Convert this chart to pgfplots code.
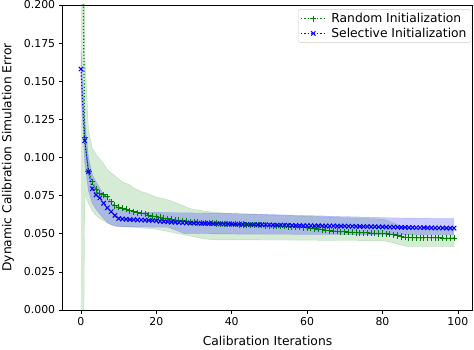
\documentclass[border=0pt]{standalone}
\usepackage{pgfplots}
\pgfplotsset{compat=1.18}
\usepackage{pgfplotstable}
\usepgfplotslibrary{fillbetween}
\usepackage{fontspec}
\setmainfont{DejaVu Sans}
\definecolor{mplgreen}{RGB}{0,128,0}
\definecolor{mplblue}{RGB}{0,0,255}
\pgfplotstableread{
x g glo ghi b blo bhi
0 0.350 -0.300 1.000 0.158 0.146 0.170
1 0.113 0.075 0.170 0.111 0.097 0.125
2 0.091 0.070 0.118 0.0907 0.078 0.100
3 0.084 0.065 0.106 0.0795 0.070 0.089
4 0.079 0.062 0.102 0.0755 0.066 0.084
5 0.0765 0.060 0.099 0.0735 0.063 0.080
6 0.0755 0.0585 0.096 0.0700 0.060 0.076
7 0.0743 0.057 0.092 0.0670 0.0575 0.073
8 0.0710 0.056 0.090 0.0645 0.056 0.070
9 0.0685 0.0555 0.088 0.0620 0.055 0.068
10 0.0675 0.055 0.086 0.0600 0.0546 0.066
11 0.0668 0.0548 0.084 0.0597 0.0545 0.0655
12 0.0660 0.0546 0.083 0.0595 0.0545 0.0650
13 0.0650 0.0544 0.082 0.0593 0.0545 0.0647
14 0.0643 0.0542 0.080 0.0592 0.0545 0.0645
15 0.0638 0.0540 0.079 0.0591 0.0544 0.0643
16 0.0634 0.0538 0.0776 0.0590 0.0544 0.0642
17 0.0630 0.0536 0.0770 0.0589 0.0544 0.0641
18 0.0622 0.0534 0.0760 0.0588 0.0544 0.0641
19 0.0615 0.0532 0.0750 0.0587 0.0543 0.0640
20 0.0610 0.0530 0.0740 0.0586 0.0543 0.0640
21 0.0606 0.0525 0.0735 0.0582 0.0543 0.0640
22 0.0602 0.0520 0.0730 0.0580 0.0543 0.0639
23 0.0598 0.0515 0.0722 0.0578 0.0543 0.0639
24 0.0594 0.0510 0.0715 0.0576 0.0535 0.0638
25 0.0590 0.0505 0.0705 0.0575 0.0525 0.0638
26 0.0587 0.0500 0.0695 0.0574 0.0515 0.0638
27 0.0584 0.0495 0.0685 0.0572 0.0505 0.0637
28 0.0581 0.0490 0.0675 0.0571 0.0500 0.0637
29 0.0578 0.0485 0.0665 0.0570 0.0500 0.0637
30 0.0576 0.0480 0.0660 0.0570 0.0500 0.0636
31 0.0574 0.0475 0.0656 0.0569 0.0500 0.0636
32 0.0572 0.0470 0.0652 0.0568 0.0500 0.0636
33 0.0570 0.0466 0.0648 0.0568 0.0500 0.0635
34 0.0569 0.0463 0.0645 0.0567 0.0500 0.0635
35 0.0568 0.0460 0.0642 0.0566 0.0499 0.0635
36 0.0567 0.0460 0.0640 0.0566 0.0499 0.0634
37 0.0566 0.0460 0.0638 0.0565 0.0499 0.0634
38 0.0565 0.0460 0.0636 0.0564 0.0499 0.0634
39 0.0564 0.0460 0.0635 0.0564 0.0499 0.0634
40 0.0563 0.0460 0.0633 0.0563 0.0499 0.0633
41 0.0562 0.0460 0.0632 0.0562 0.0498 0.0632
42 0.0561 0.0460 0.0631 0.0562 0.0498 0.0631
43 0.0560 0.0460 0.0630 0.0561 0.0498 0.0631
44 0.0559 0.0460 0.0629 0.0561 0.0498 0.0630
45 0.0558 0.0460 0.0628 0.0560 0.0498 0.0629
46 0.0557 0.0460 0.0627 0.0560 0.0498 0.0629
47 0.0556 0.0460 0.0626 0.0559 0.0498 0.0628
48 0.0555 0.0459 0.0625 0.0559 0.0498 0.0627
49 0.0554 0.0459 0.0624 0.0558 0.0498 0.0627
50 0.0553 0.0459 0.0623 0.0558 0.0498 0.0626
51 0.0552 0.0459 0.0622 0.0557 0.0498 0.0625
52 0.0551 0.0459 0.0621 0.0557 0.0498 0.0625
53 0.0550 0.0459 0.0620 0.0556 0.0498 0.0624
54 0.0549 0.0459 0.0619 0.0556 0.0498 0.0623
55 0.0548 0.0459 0.0619 0.0555 0.0498 0.0623
56 0.0546 0.0458 0.0618 0.0555 0.0496 0.0622
57 0.0544 0.0458 0.0617 0.0554 0.0496 0.0621
58 0.0542 0.0458 0.0616 0.0554 0.0496 0.0621
59 0.0540 0.0458 0.0616 0.0553 0.0496 0.0620
60 0.0538 0.0458 0.0615 0.0553 0.0496 0.0619
61 0.0536 0.0458 0.0614 0.0553 0.0496 0.0619
62 0.0533 0.0458 0.0613 0.0552 0.0496 0.0618
63 0.0530 0.0457 0.0612 0.0552 0.0496 0.0617
64 0.0527 0.0457 0.0611 0.0552 0.0496 0.0617
65 0.0524 0.0457 0.0610 0.0551 0.0496 0.0616
66 0.0521 0.0457 0.0609 0.0551 0.0496 0.0615
67 0.0518 0.0457 0.0608 0.0551 0.0496 0.0615
68 0.0516 0.0456 0.0607 0.0550 0.0496 0.0614
69 0.0514 0.0456 0.0606 0.0550 0.0496 0.0613
70 0.0512 0.0456 0.0605 0.0550 0.0496 0.0613
71 0.0510 0.0456 0.0604 0.0549 0.0494 0.0612
72 0.0509 0.0456 0.0603 0.0549 0.0494 0.0611
73 0.0508 0.0456 0.0602 0.0548 0.0494 0.0611
74 0.0507 0.0455 0.0601 0.0548 0.0494 0.0610
75 0.0506 0.0455 0.0600 0.0547 0.0494 0.0609
76 0.0505 0.0455 0.0599 0.0547 0.0494 0.0609
77 0.0504 0.0455 0.0598 0.0546 0.0494 0.0608
78 0.0503 0.0455 0.0597 0.0546 0.0494 0.0607
79 0.0502 0.0455 0.0596 0.0545 0.0494 0.0607
80 0.0501 0.0455 0.0595 0.0545 0.0494 0.0606
81 0.0500 0.0450 0.0590 0.0544 0.0494 0.0605
82 0.0498 0.0445 0.0580 0.0544 0.0494 0.0605
83 0.0494 0.0440 0.0570 0.0543 0.0494 0.0604
84 0.0488 0.0432 0.0560 0.0543 0.0494 0.0604
85 0.0482 0.0425 0.0550 0.0542 0.0494 0.0603
86 0.0478 0.0420 0.0540 0.0542 0.0492 0.0603
87 0.0476 0.0415 0.0535 0.0541 0.0492 0.0602
88 0.0475 0.0415 0.0532 0.0541 0.0492 0.0602
89 0.0474 0.0415 0.0530 0.0540 0.0492 0.0602
90 0.0474 0.0415 0.0530 0.0540 0.0492 0.0601
91 0.0474 0.0415 0.0530 0.0540 0.0492 0.0601
92 0.0473 0.0415 0.0529 0.0539 0.0492 0.0601
93 0.0473 0.0415 0.0529 0.0539 0.0492 0.0600
94 0.0473 0.0415 0.0529 0.0538 0.0492 0.0600
95 0.0473 0.0415 0.0529 0.0538 0.0492 0.0600
96 0.0472 0.0415 0.0528 0.0538 0.0492 0.0600
97 0.0472 0.0415 0.0528 0.0537 0.0492 0.0600
98 0.0472 0.0415 0.0528 0.0537 0.0492 0.0600
99 0.0472 0.0415 0.0528 0.0537 0.0492 0.0600
}\data
\begin{document}
\begin{tikzpicture}
\begin{axis}[
  at={(0,0)}, anchor=south west,
  scale only axis, width=410.4bp, height=305bp,
  xmin=-4.95, xmax=103.95, ymin=0, ymax=0.2,
  xtick={0,20,40,60,80,100},
  ytick={0,0.025,0.05,0.075,0.1,0.125,0.15,0.175,0.2},
  yticklabel style={/pgf/number format/fixed,/pgf/number format/fixed zerofill,/pgf/number format/precision=3},
  scaled y ticks=false,
  /pgf/number format/assume math mode=true,
  tick align=outside, xtick pos=bottom, ytick pos=left,
  major tick length=3.6bp,
  every tick/.style={black, line width=0.6bp},
  axis line style={line width=0.6bp, black},
  tick label style={font=\fontsize{10.9bp}{13bp}\selectfont},
  label style={font=\fontsize{12.3bp}{14.5bp}\selectfont},
  xlabel={Calibration Iterations},
  ylabel={Dynamic Calibration Simulation Error},
  x label style={at={(axis description cs:0.5,0)}, yshift=-31bp, anchor=center},
  y label style={at={(axis description cs:-0.1323,0.5)}, anchor=center},
  clip marker paths=true,
  legend style={at={(rel axis cs:1,1)}, anchor=north east, xshift=-1.5bp, yshift=-4.5bp,
    draw=black!20, rounded corners=2bp, fill=white, fill opacity=0.8, text opacity=1,
    font=\fontsize{12.3bp}{14.5bp}\selectfont, inner xsep=2.5bp, inner ysep=1.5bp,
    row sep=0bp, cells={anchor=west}},
  legend image code/.code={\draw[mark repeat=2, mark phase=2] plot coordinates {(0bp,0bp) (12bp,0bp) (24bp,0bp)};},
]
\addplot[name path=gu, mplgreen, draw opacity=0.2, line width=0.4bp, forget plot] table[x=x,y=ghi]{\data};
\addplot[name path=gl, mplgreen, draw opacity=0.2, line width=0.4bp, forget plot] table[x=x,y=glo]{\data};
\addplot[fill=mplgreen, fill opacity=0.16, draw=none, forget plot] fill between[of=gu and gl];
\addplot[mplgreen, line width=1.2bp, dash pattern=on 1.2bp off 2bp, mark=+, mark size=3.1bp,
  mark options={solid, line width=1.0bp}] table[x=x,y=g]{\data};
\addplot[name path=bu, mplblue, draw opacity=0.2, line width=0.4bp, forget plot] table[x=x,y=bhi]{\data};
\addplot[name path=bl, mplblue, draw opacity=0.2, line width=0.4bp, forget plot] table[x=x,y=blo]{\data};
\addplot[fill=mplblue, fill opacity=0.21, draw=none, forget plot] fill between[of=bu and bl];
\addplot[mplblue, line width=1.2bp, dash pattern=on 1.2bp off 2bp, mark=x, mark size=3.1bp,
  mark options={solid, line width=1.0bp}] table[x=x,y=b]{\data};
\legend{\hspace{3.5bp}Random Initialization, \hspace{3.5bp}Selective Initialization}
\end{axis}
\pgfresetboundingbox
\useasboundingbox (-62.3bp,-40bp) rectangle (411.7bp,310bp);
\end{tikzpicture}
\end{document}
